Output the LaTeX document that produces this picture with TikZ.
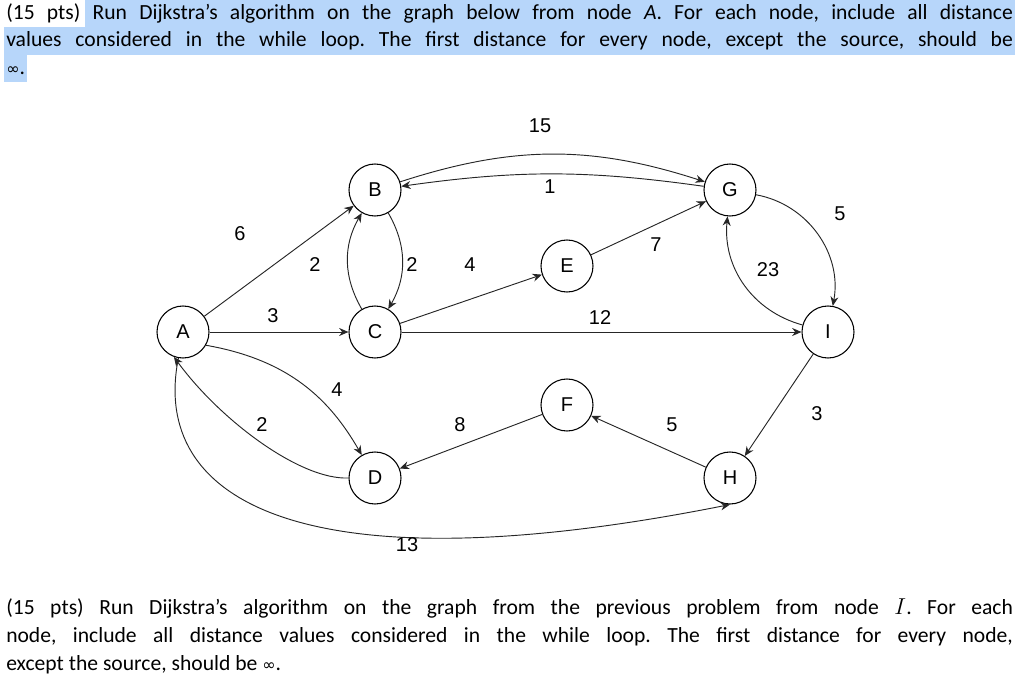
\documentclass[tikz,border=0pt]{standalone}
\usepackage{fontspec}
\setmainfont{Carlito}
\newfontfamily\arial{Liberation Sans}
\newfontfamily\djv{DejaVu Sans}
\usetikzlibrary{arrows.meta}
\definecolor{hl}{RGB}{183,214,250}
\begin{document}
\frenchspacing
\begin{tikzpicture}[x=0.75pt,y=-0.75pt,
  vert/.style={circle,draw,thick,minimum size=39pt,inner sep=0pt,fill=white,font=\arial\fontsize{15}{15}\selectfont},
  edge/.style={-{Stealth[length=7pt,width=6pt]},line width=0.7pt,draw=black!85},
  lab/.style={font=\arial\fontsize{15}{15}\selectfont},
  txt/.style={anchor=base west,inner sep=0pt,font=\fontsize{16.2}{19}\selectfont}]
\useasboundingbox (0,0) rectangle (1024,695);
% highlights
\fill[hl] (85,0) rectangle (1015,27);
\fill[hl] (4,27) rectangle (1015,55);
\fill[hl] (4,55) rectangle (27,82);
\node[txt] (t1) at (6,20) {\makebox[755pt][s]{(15 pts) Run Dijkstra’s algorithm on the graph below from node \textit{A}. For each node, include all distance}};
\node[txt] (t2) at (6,47) {\makebox[755pt][s]{values considered in the while loop. The first distance for every node, except the source, should be}};
\node[txt] (t3) at (6,75) {{\djv\fontsize{12}{12}\selectfont ∞}.};
\node[txt] (b1) at (6,614) {\makebox[755pt][s]{(15 pts) Run Dijkstra’s algorithm on the graph from the previous problem from node $I$. For each}};
\node[txt] (b2) at (6,642) {\makebox[755pt][s]{node, include all distance values considered in the while loop. The first distance for every node,}};
\node[txt] (b3) at (6,670) {except the source, should be {\djv\fontsize{12}{12}\selectfont ∞}.};
% nodes
\node[vert] (A) at (183,332) {A};
\node[vert] (B) at (375,190) {B};
\node[vert] (C) at (375,332) {C};
\node[vert] (D) at (375,478) {D};
\node[vert] (E) at (567,266) {E};
\node[vert] (F) at (567,405) {F};
\node[vert] (G) at (730,190) {G};
\node[vert] (H) at (730,478) {H};
\node[vert] (I) at (828,332) {I};
% edges
\draw[edge] (A) -- (B);
\draw[edge] (A) -- (C);
\draw[edge] (A.-30) .. controls (290,360) and (330,400) .. (D);
\draw[edge] (D.west) .. controls (300,480) and (220,420) .. (A.-110);
\draw[edge] (A.-100) .. controls (150,500) and (300,590) .. (H.south);
\draw[edge] (B) to[bend left=18] (G);
\draw[edge] (G) to[bend right=8] (B);
\draw[edge] (C) to[bend left=30] (B);
\draw[edge] (B) to[bend left=30] (C);
\draw[edge] (C) -- (E);
\draw[edge] (E) -- (G);
\draw[edge] (C) -- (I);
\draw[edge] (G) to[bend left=45] (I);
\draw[edge] (I) to[bend left=40] (G);
\draw[edge] (I) -- (H);
\draw[edge] (H) -- (F);
\draw[edge] (F) -- (D);
% labels
\node[lab] (l6) at (240,234) {6};
\node[lab] (l3) at (273,316) {3};
\node[lab] (l4a) at (337,390) {4};
\node[lab] (l2a) at (262,425) {2};
\node[lab] (l13) at (407,545) {13};
\node[lab] (l15) at (540,126) {15};
\node[lab] (l1) at (550,187) {1};
\node[lab] (l2b) at (315,265) {2};
\node[lab] (l2c) at (412,265) {2};
\node[lab] (l4b) at (470,265) {4};
\node[lab] (l7) at (656,245) {7};
\node[lab] (l12) at (600,318) {12};
\node[lab] (l5a) at (840,214) {5};
\node[lab] (l23) at (768,270) {23};
\node[lab] (l3b) at (817,414) {3};
\node[lab] (l5b) at (672,425) {5};
\node[lab] (l8) at (460,425) {8};
\end{tikzpicture}
\end{document}
